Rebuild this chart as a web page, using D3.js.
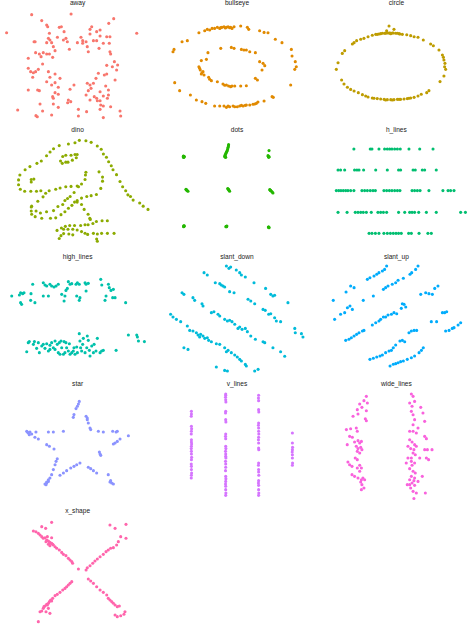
<!DOCTYPE html>
<html>
<head>
<meta charset="utf-8">
<script src="https://cdn.jsdelivr.net/npm/d3@7"></script>
<style>
html,body{margin:0;padding:0;background:#fff;}
svg{display:block;}
</style>
</head>
<body>
<script>
// ---- data ----
const datasetNames = ["away","bullseye","circle","dino","dots","h_lines","high_lines","slant_down","slant_up","star","v_lines","wide_lines","x_shape"];
const datasetColors = ["#F8766D","#E18A00","#BE9C00","#8CAB00","#24B700","#00BE70","#00C1AB","#00BBDA","#00ACFC","#8B93FF","#D575FE","#F962DD","#FF65AC"];
const xLimits = [15.56, 98.29];
const yLimits = [0.015, 99.6];

const away = [[30.0,98.4],[53.1,99.0],[35.9,92.7],[15.3,81.2],[91.6,80.6],[78.1,94.6],[75.2,90.1],[38.8,88.5],[39.4,86.9],[46.2,86.3],[47.4,86.9],[65.2,86.9],[64.2,84.4],[68.1,82.2],[70.1,83.8],[40.4,80.6],[49.0,82.2],[50.1,75.8],[64.2,79.9],[70.1,78.0],[31.4,72.6],[32.0,72.6],[39.8,75.8],[40.7,74.2],[45.1,76.8],[48.6,74.2],[50.9,72.6],[58.9,76.8],[59.9,73.6],[61.9,72.6],[56.8,71.7],[59.9,71.1],[66.2,73.6],[68.1,73.6],[74.0,77.4],[75.9,77.4],[72.0,71.1],[75.5,71.1],[38.8,71.7],[41.7,71.7],[42.7,67.9],[52.1,65.4],[62.6,67.9],[63.2,63.1],[69.5,66.3],[75.9,63.1],[76.3,60.9],[32.3,62.2],[34.5,60.9],[35.5,58.4],[36.8,62.2],[38.8,60.9],[40.4,60.9],[42.3,57.7],[43.7,64.1],[28.0,56.8],[78.5,53.6],[80.4,50.4],[74.0,50.1],[77.3,48.8],[79.8,45.7],[36.4,51.4],[28.0,47.3],[29.4,44.1],[31.0,43.1],[32.3,44.1],[33.9,46.3],[30.6,38.7],[39.8,44.1],[40.7,38.7],[43.7,41.8],[74.0,41.8],[72.6,40.9],[69.1,42.5],[46.6,37.7],[38.8,34.5],[41.7,31.4],[43.7,33.6],[78.9,36.1],[67.7,37.7],[62.6,33.0],[64.2,31.4],[66.2,33.0],[64.8,28.2],[52.5,27.3],[54.8,31.4],[73.4,30.4],[70.1,25.0],[75.0,26.6],[45.6,29.2],[33.5,26.6],[34.5,26.0],[28.0,26.6],[63.2,26.0],[43.7,24.1],[45.6,22.5],[42.3,20.3],[42.7,18.7],[66.7,20.3],[68.1,18.7],[61.9,21.8],[72.0,20.9],[75.0,21.8],[74.4,18.7],[64.2,17.1],[70.1,16.4],[51.5,17.1],[52.9,15.5],[51.1,14.5],[42.7,13.3],[34.9,13.3],[45.6,10.1],[70.5,12.3],[72.0,11.4],[76.3,10.7],[57.4,8.2],[70.1,8.2],[21.8,7.6],[36.4,6.6],[81.8,6.6],[32.5,2.2],[33.3,1.2],[41.7,2.8],[57.4,1.8],[72.0,0.3],[82.2,1.8],[62.2,6.0],[68.5,16.4]];

const bullseye = [[34.6,81.2],[38.0,83.1],[39.5,84.4],[40.9,83.8],[42.3,85.3],[43.8,85.3],[45.4,86.3],[46.8,85.3],[48.1,86.3],[49.3,86.9],[50.7,86.3],[51.7,86.9],[53.2,86.3],[55.2,86.9],[59.1,87.6],[63.0,86.3],[63.8,84.4],[70.2,83.1],[72.8,81.5],[75.1,81.2],[79.4,74.9],[83.3,71.7],[88.8,65.3],[89.2,59.0],[91.1,53.6],[91.7,48.8],[90.8,46.3],[88.4,31.4],[78.2,19.6],[77.5,20.3],[72.8,16.1],[69.2,15.2],[68.3,13.9],[66.3,13.0],[64.4,12.3],[61.8,12.0],[60.5,11.4],[58.5,11.4],[57.1,10.7],[54.6,11.4],[52.6,10.7],[50.7,10.1],[49.3,11.4],[46.8,11.4],[43.8,11.4],[38.6,13.9],[36.4,15.5],[33.1,17.1],[29.6,21.8],[23.3,26.0],[20.4,33.6],[19.4,63.1],[20.0,65.3],[24.7,72.6],[27.8,73.6],[47.4,66.3],[53.6,67.2],[55.2,66.3],[59.5,65.3],[61.0,64.7],[62.4,64.7],[64.4,63.1],[67.7,62.2],[39.9,62.2],[39.0,55.8],[36.0,54.6],[70.2,53.6],[72.2,52.0],[73.2,49.8],[71.6,45.7],[34.6,48.8],[35.4,45.7],[36.4,43.1],[37.6,40.9],[36.0,41.8],[40.9,36.8],[41.9,35.5],[45.4,34.5],[48.7,32.3],[50.7,31.4],[52.0,30.4],[54.0,30.4],[55.6,30.4],[59.1,30.4],[62.4,30.7],[67.7,37.7],[68.9,36.1],[40.3,38.7],[47.4,86.0],[50.1,85.7],[52.6,86.0],[54.0,85.3],[62.4,12.3],[67.3,13.3],[55.6,10.7],[51.7,11.4],[59.5,12.0],[49.7,31.1],[53.2,29.8],[35.0,47.3],[37.0,44.1]];

const circle = [[52.6,87.6],[55.5,84.4],[51.2,83.1],[32.1,71.7],[33.6,73.6],[36.0,74.9],[37.9,75.8],[40.3,77.4],[42.8,78.7],[44.8,79.6],[46.7,79.9],[48.7,80.6],[50.0,80.6],[51.6,80.9],[53.2,80.9],[54.5,80.9],[56.5,80.6],[58.5,80.3],[60.4,79.6],[63.0,79.3],[65.3,78.4],[67.3,77.4],[69.6,76.8],[72.7,74.2],[77.0,70.4],[78.6,68.8],[81.9,64.7],[83.9,59.9],[84.8,55.2],[85.4,52.0],[85.8,46.3],[84.8,39.9],[82.5,34.6],[76.0,26.0],[74.7,24.1],[71.5,22.5],[69.6,20.9],[67.3,19.6],[65.3,19.0],[63.3,18.4],[61.4,18.0],[59.4,17.7],[57.5,17.7],[55.5,17.4],[53.6,17.4],[51.6,17.4],[49.7,17.7],[47.7,18.0],[45.7,18.4],[42.8,19.0],[40.3,19.9],[38.9,20.9],[37.0,22.2],[34.6,24.1],[32.1,25.7],[30.1,27.2],[28.2,29.2],[26.2,32.3],[24.8,36.1],[21.7,46.3],[22.7,52.6],[25.2,61.5],[26.6,64.1],[31.1,70.4],[45.7,79.6],[47.7,80.3],[50.6,80.6],[52.6,80.9],[57.5,80.6],[59.0,80.0],[53.6,80.3],[55.1,80.9],[50.6,17.1],[54.5,17.1],[58.5,17.7],[64.3,18.7],[43.8,18.7],[84.5,57.7],[85.2,48.8]];

const dino = [[55.3846,97.1795],[51.5385,96.0256],[46.1538,94.4872],[42.8205,91.4103],[40.7692,88.3333],[38.7179,84.8718],[35.641,79.8718],[33.0769,77.5641],[28.9744,74.4872],[26.1538,71.4103],[23.0769,66.4103],[22.3077,61.7949],[22.3077,57.1795],[23.3333,52.9487],[25.8974,51.0256],[29.4872,51.0256],[32.8205,51.0256],[35.3846,51.4103],[40.2564,51.4103],[44.1026,52.9487],[46.6667,54.1026],[50.0,55.2564],[53.0769,55.641],[56.6667,56.0256],[59.2308,57.9487],[61.2821,62.1795],[61.5385,66.4103],[61.7949,69.1026],[57.4359,55.2564],[54.8718,49.8718],[52.5641,46.0256],[48.2051,38.3333],[49.4872,42.1795],[51.0256,44.1026],[45.3846,36.4103],[42.8205,32.5641],[38.7179,31.4103],[35.1282,30.2564],[32.5641,32.1795],[30.0,36.7949],[33.5897,41.4103],[36.6667,45.641],[38.2051,49.1026],[29.7436,36.0256],[29.7436,32.1795],[30.0,29.1026],[32.0513,26.7949],[35.8974,25.2564],[41.0256,25.2564],[44.1026,25.641],[47.1795,28.718],[49.4872,31.4103],[51.5385,34.8718],[53.5897,37.5641],[55.1282,40.641],[56.6667,42.1795],[59.2308,44.4872],[62.3077,46.0256],[64.8718,46.7949],[67.9487,47.9487],[70.5128,53.718],[71.5385,60.641],[71.5385,64.4872],[69.4872,69.4872],[46.9231,79.8718],[48.2051,84.1026],[50.0,85.2564],[53.0769,85.2564],[55.3846,86.0256],[56.6667,86.0256],[56.1538,82.9487],[53.8462,80.641],[51.2821,78.718],[50.0,78.718],[47.9487,77.5641],[29.7436,59.8718],[29.7436,62.1795],[31.2821,62.5641],[57.9487,99.4872],[61.7949,99.1026],[64.8718,97.5641],[68.4615,94.1026],[70.7692,91.0256],[72.0513,86.4103],[73.8462,83.3333],[75.1282,79.1026],[76.6667,75.2564],[77.6923,71.4103],[79.7436,66.7949],[81.7949,60.2564],[83.3333,55.2564],[85.1282,51.4103],[86.4103,47.5641],[87.9487,46.0256],[89.4872,42.5641],[93.3333,39.8718],[95.3846,36.7949],[98.2051,33.718],[56.6667,40.641],[59.2308,38.3333],[60.7692,33.718],[63.0769,29.1026],[64.1026,25.2564],[64.359,24.1026],[74.359,22.9487],[71.2821,22.9487],[67.9487,22.1795],[65.8974,20.2564],[63.0769,19.1026],[61.2821,19.1026],[58.7179,18.3333],[55.1282,18.3333],[52.3077,18.3333],[49.7436,17.5641],[47.4359,16.0256],[44.8718,13.7179],[48.7179,14.8718],[51.2821,14.8718],[54.1026,14.8718],[56.6667,14.1026],[59.2308,12.5641],[61.2821,11.0256],[62.8205,9.8718],[54.1026,9.4872],[51.7949,10.2564],[48.7179,10.641],[47.1795,8.718],[46.1538,6.0256],[66.2,10.9],[68.5,10.3],[71.0,10.9],[74.4,10.9],[78.3,10.9],[68.1,5.5],[68.5,3.3]];

const dots = [[25.4,83.9],[25.7,84.3],[25.9,83.6],[25.5,84.6],[26.0,84.0],[25.6,83.2],[52.0,95.4],[51.9,94.2],[51.7,92.8],[51.5,91.5],[51.3,90.3],[51.0,89.2],[50.7,88.1],[50.4,87.0],[50.1,85.9],[49.9,85.0],[49.7,84.0],[50.3,83.3],[50.0,83.7],[75.7,89.7],[75.1,84.9],[75.5,83.3],[75.3,84.2],[75.8,83.8],[27.2,52.5],[27.5,52.0],[27.8,51.5],[28.2,51.0],[27.0,52.9],[51.7,53.2],[52.0,52.5],[52.3,51.8],[52.6,51.0],[51.5,53.6],[76.1,52.5],[76.6,51.8],[77.1,51.0],[77.6,50.2],[78.0,49.3],[76.4,52.1],[25.8,17.6],[25.6,17.2],[26.0,18.0],[25.7,18.1],[50.7,17.6],[50.4,17.3],[51.0,17.9],[50.8,17.2],[75.5,16.6],[75.3,16.9],[75.7,16.2],[75.6,17.0]];

const h_lines = [[32.0,91.2],[41.6,91.2],[42.6,91.2],[46.7,91.2],[50.0,91.2],[51.6,91.2],[53.0,91.2],[54.3,91.2],[55.9,91.2],[57.5,91.2],[59.2,91.2],[64.3,91.2],[70.6,91.2],[78.4,91.2],[22.7,71.2],[24.2,71.2],[26.6,71.2],[32.4,71.2],[33.8,71.2],[35.0,71.2],[37.7,71.2],[44.8,71.2],[51.6,71.2],[58.2,71.2],[59.4,71.2],[66.7,71.2],[68.0,71.2],[72.1,71.2],[73.5,71.2],[80.3,71.2],[21.7,51.6],[23.1,51.6],[24.4,51.6],[25.8,51.6],[27.2,51.6],[28.5,51.6],[30.1,51.6],[32.0,51.6],[36.7,51.6],[38.3,51.6],[39.9,51.6],[41.6,51.6],[43.2,51.6],[44.6,51.6],[49.6,51.6],[51.2,51.6],[52.8,51.6],[54.3,51.6],[55.9,51.6],[57.5,51.6],[59.0,51.6],[66.1,51.6],[67.6,51.6],[69.2,51.6],[70.8,51.6],[76.0,51.6],[84.2,51.6],[87.2,51.6],[88.7,51.6],[90.7,51.6],[22.7,30.9],[28.0,30.9],[32.8,30.9],[34.4,30.9],[36.0,30.9],[37.5,30.9],[39.3,30.9],[42.2,30.9],[46.1,30.9],[47.7,30.9],[49.3,30.9],[51.2,30.9],[58.2,30.9],[61.8,30.9],[64.7,30.9],[66.1,30.9],[67.6,30.9],[70.0,30.9],[74.5,30.9],[80.3,30.9],[94.6,30.9],[97.4,30.9],[40.9,10.9],[42.6,10.9],[44.6,10.9],[46.7,10.9],[49.6,10.9],[51.6,10.9],[53.4,10.9],[55.1,10.9],[56.7,10.9],[58.2,10.9],[59.8,10.9],[64.1,10.9],[65.7,10.9],[70.2,10.9],[75.4,10.9],[77.4,10.9]];

const high_lines = [[18.3,72.0],[22.8,73.0],[23.5,75.2],[24.7,74.3],[25.5,75.2],[23.5,65.7],[24.1,64.1],[29.6,74.3],[30.6,83.2],[29.4,67.9],[31.9,65.7],[36.8,84.7],[37.8,82.5],[36.8,72.0],[39.8,72.0],[38.8,81.6],[40.7,83.2],[41.7,81.6],[43.1,80.6],[44.3,81.6],[45.6,83.2],[47.6,73.6],[49.5,72.0],[49.0,67.3],[50.1,77.4],[51.5,85.7],[52.5,83.2],[50.9,79.3],[53.5,83.8],[56.0,83.2],[56.8,84.7],[57.9,83.2],[56.4,72.0],[58.3,70.5],[57.9,67.9],[61.3,84.7],[61.9,83.2],[63.2,84.1],[61.9,76.8],[70.5,87.9],[71.1,82.5],[75.0,83.2],[75.5,80.0],[76.5,77.4],[77.9,78.4],[73.6,72.0],[73.0,67.9],[77.5,70.5],[78.9,70.5],[85.1,65.7],[27.1,19.0],[28.0,27.6],[28.6,28.6],[31.0,26.0],[31.6,28.6],[32.9,22.2],[33.9,27.6],[34.5,18.1],[35.9,24.4],[36.8,26.0],[37.8,22.2],[38.8,26.6],[39.8,19.7],[40.7,21.2],[40.7,25.1],[41.7,27.6],[43.7,29.2],[43.7,21.2],[45.6,18.1],[46.6,16.5],[47.2,29.2],[47.6,22.8],[48.6,16.5],[49.0,28.6],[50.1,27.6],[50.5,22.8],[51.5,19.7],[52.1,26.6],[52.5,16.5],[53.5,18.1],[54.4,19.7],[54.8,22.8],[56.4,23.5],[56.8,18.1],[57.9,36.2],[58.3,29.2],[58.7,22.8],[59.3,19.7],[59.9,26.0],[60.3,31.7],[61.3,18.1],[62.3,22.8],[62.6,33.9],[63.2,29.8],[63.8,20.3],[64.2,14.9],[65.2,24.4],[66.2,18.1],[66.6,26.0],[67.7,19.7],[68.5,31.7],[70.1,18.1],[71.0,19.7],[72.0,20.3],[79.5,20.3],[86.7,34.9],[91.6,34.9],[92.0,33.0],[92.6,29.2],[96.1,28.6],[46.2,27.6],[45.0,26.0],[55.4,16.5],[49.5,18.1],[42.7,22.8]];

const slant_down = [[50.7,100.6],[52.2,98.4],[53.2,99.7],[56.5,96.8],[58.5,94.3],[59.5,92.0],[61.8,90.1],[66.9,84.7],[73.7,79.3],[76.7,73.6],[78.0,72.0],[79.0,72.7],[86.8,65.7],[37.6,94.3],[39.5,92.0],[44.2,84.7],[46.8,83.8],[47.7,82.5],[48.7,81.6],[49.7,80.6],[52.6,76.2],[55.2,75.2],[63.4,68.9],[65.0,67.3],[67.3,64.7],[72.2,59.3],[73.5,58.4],[75.5,54.6],[76.7,55.2],[79.0,51.4],[80.0,48.2],[82.5,47.6],[90.8,41.2],[91.1,37.1],[94.7,36.2],[95.6,33.0],[24.7,75.2],[25.8,73.6],[31.1,70.5],[32.1,67.9],[36.4,64.7],[37.0,62.5],[41.9,56.2],[43.4,57.1],[45.8,54.6],[46.8,53.0],[49.7,49.8],[51.3,48.2],[52.6,48.9],[54.0,47.6],[55.6,45.1],[57.5,41.2],[58.5,42.5],[59.9,40.3],[61.8,41.2],[63.0,38.1],[65.0,33.9],[67.7,30.8],[72.2,28.5],[73.2,27.6],[78.0,22.8],[82.5,19.0],[84.9,14.6],[18.0,54.6],[19.4,52.0],[21.4,49.8],[23.9,47.6],[27.8,43.5],[29.2,39.3],[31.1,38.7],[33.1,37.1],[34.1,34.9],[35.0,33.0],[35.6,35.5],[37.0,33.9],[38.0,31.7],[39.5,32.3],[40.3,29.8],[41.9,28.5],[44.8,26.6],[46.8,26.0],[49.7,22.8],[50.7,19.0],[51.7,20.3],[53.6,18.1],[55.6,15.8],[57.1,13.9],[58.5,11.7],[59.5,10.1],[61.8,6.9],[62.4,5.4],[25.8,22.8],[28.2,21.2],[44.8,4.4],[49.7,1.2],[51.3,0.6],[67.3,0.6],[69.3,2.2]];

const slant_up = [[39.9,87.9],[41.4,89.5],[43.8,91.1],[45.4,92.7],[46.7,94.3],[48.7,95.9],[50.0,97.4],[51.2,100.6],[27.4,75.8],[30.1,81.6],[32.1,80.0],[49.3,78.4],[50.6,80.0],[52.0,81.6],[54.5,83.2],[56.5,84.7],[57.9,87.0],[61.0,88.9],[64.9,92.7],[65.9,94.3],[68.2,97.4],[69.6,100.6],[19.9,67.9],[37.5,67.9],[43.4,72.0],[71.2,73.6],[74.1,75.2],[76.0,74.3],[78.0,73.6],[79.4,79.3],[81.3,81.6],[20.7,49.8],[24.2,54.6],[26.6,56.2],[28.2,60.9],[29.7,62.5],[31.1,59.3],[42.8,44.4],[44.8,46.6],[46.7,48.2],[47.7,49.8],[49.3,52.0],[50.6,52.0],[52.0,53.9],[54.0,54.6],[55.5,56.2],[57.1,55.2],[59.8,60.3],[61.4,64.1],[62.4,61.6],[60.4,64.7],[27.2,29.8],[29.1,30.8],[30.5,32.3],[32.1,33.9],[33.6,35.5],[35.0,37.1],[37.0,38.7],[37.9,39.3],[77.4,47.6],[80.5,47.6],[83.9,56.2],[85.2,56.2],[86.4,57.1],[85.8,38.7],[87.8,39.3],[89.7,41.2],[90.7,41.9],[93.1,44.4],[94.6,46.6],[41.4,11.7],[43.4,12.7],[45.4,13.9],[47.3,14.9],[48.7,15.8],[50.6,18.1],[52.6,19.7],[54.0,20.3],[55.1,22.8],[56.5,25.4],[59.0,29.2],[60.4,29.8],[61.8,28.5],[64.3,37.1],[65.7,38.7],[67.3,39.3],[68.8,39.3],[53.2,5.4],[55.1,7.0],[56.5,7.6],[57.9,8.5],[59.4,9.5],[61.0,10.1],[63.3,11.7],[65.7,13.3],[67.6,14.9],[70.2,18.1],[71.6,20.3],[72.7,22.8]];

const star = [[57.9,92.5],[57.4,90.0],[56.8,87.8],[56.0,85.6],[54.8,79.9],[54.4,77.3],[61.9,78.3],[62.6,75.1],[63.2,71.9],[64.2,67.2],[64.6,65.6],[69.1,64.0],[72.0,63.3],[77.5,64.0],[79.5,63.3],[80.2,64.0],[86.7,59.8],[81.8,56.7],[80.2,54.4],[78.9,52.9],[77.9,51.9],[69.7,44.3],[70.5,41.1],[63.2,29.7],[64.6,28.4],[66.2,26.5],[68.1,24.3],[74.9,22.7],[75.9,15.7],[76.9,14.8],[77.9,13.8],[58.3,33.8],[56.4,32.2],[54.8,30.6],[52.9,29.0],[50.5,26.5],[48.6,24.3],[46.6,22.1],[37.8,13.8],[38.8,14.8],[39.8,16.3],[40.7,19.5],[41.7,22.7],[42.7,27.5],[43.7,32.2],[44.3,35.4],[45.0,37.9],[27.1,64.0],[28.0,62.4],[29.0,63.3],[30.0,61.4],[31.9,58.3],[33.9,56.7],[32.5,63.3],[39.8,63.3],[42.7,63.3],[48.6,64.0],[38.8,51.3],[40.4,49.7],[43.1,47.1],[27.5,63.3],[28.6,60.8],[38.8,15.7],[38.4,13.2],[39.8,17.9],[62.6,76.7],[70.1,42.4],[76.3,17.0]];

const v_lines = [[30.2,83.0],[30.2,80.5],[30.1,78.3],[30.2,68.7],[30.3,66.5],[30.2,64.0],[30.1,61.4],[30.2,56.0],[30.2,53.8],[30.3,51.9],[30.2,49.7],[30.1,47.5],[30.2,44.9],[30.2,42.4],[30.3,39.2],[30.2,37.0],[30.1,32.9],[30.2,30.6],[30.2,27.5],[30.3,24.3],[30.2,22.1],[30.1,19.5],[50.3,99.6],[50.3,98.3],[50.2,96.4],[50.3,94.1],[50.4,91.9],[50.3,83.0],[50.2,81.4],[50.3,75.1],[50.4,72.9],[50.3,61.4],[50.2,59.2],[50.3,57.0],[50.3,49.7],[50.4,47.5],[50.2,44.9],[50.3,42.4],[50.3,40.2],[50.4,38.6],[50.2,35.4],[50.3,32.9],[50.3,29.7],[50.2,26.5],[50.3,21.1],[50.4,18.9],[50.3,16.3],[50.2,13.8],[50.3,11.6],[50.3,8.4],[50.4,5.2],[50.3,3.0],[69.6,98.3],[69.5,95.7],[69.6,93.2],[69.6,84.6],[69.7,82.4],[69.6,71.9],[69.5,69.7],[69.6,67.2],[69.6,64.0],[69.7,61.4],[69.6,58.3],[69.5,56.0],[69.6,52.9],[69.6,48.1],[69.7,46.5],[69.6,33.8],[69.5,31.6],[69.6,27.5],[69.6,25.2],[69.7,22.1],[69.6,17.0],[69.5,14.8],[69.6,12.5],[69.6,8.4],[69.7,5.2],[69.6,3.0],[89.4,62.4],[89.4,52.9],[89.5,48.7],[89.4,46.5],[89.3,44.3],[89.4,41.7],[89.4,38.6],[89.5,33.8],[89.4,31.6]];

const wide_lines = [[39.3,97.3],[37.9,93.2],[39.9,90.9],[35.4,90.0],[36.7,86.8],[34.0,84.6],[39.3,83.6],[34.4,80.5],[31.5,78.3],[38.7,76.0],[39.3,74.1],[27.6,65.6],[30.1,66.5],[33.4,67.2],[34.0,64.0],[29.5,59.2],[31.1,58.3],[32.4,53.8],[34.4,55.1],[35.4,52.9],[36.4,54.4],[28.1,51.3],[33.4,49.7],[34.4,47.5],[36.0,48.7],[36.7,46.5],[34.0,44.9],[35.4,43.3],[32.8,38.6],[34.0,37.0],[28.5,34.8],[29.5,32.2],[30.9,30.6],[35.4,31.6],[34.0,29.0],[36.4,29.0],[35.4,25.9],[30.9,22.7],[32.4,21.1],[34.4,19.5],[36.4,17.9],[37.3,19.5],[38.3,17.9],[36.0,15.7],[36.7,13.2],[37.9,10.0],[36.4,8.4],[65.7,99.5],[66.7,97.3],[67.6,92.5],[64.7,90.9],[66.1,87.8],[71.2,86.8],[65.7,83.0],[72.5,81.4],[66.7,79.8],[67.6,75.1],[73.5,73.5],[66.7,70.3],[69.6,67.2],[64.7,64.0],[66.7,64.0],[68.6,62.4],[73.5,59.2],[74.5,57.0],[64.7,56.0],[66.1,53.8],[67.6,51.3],[63.7,49.7],[68.6,49.7],[65.3,47.5],[67.2,46.5],[73.5,46.5],[75.1,46.5],[77.8,46.5],[66.7,43.3],[68.0,41.7],[63.7,38.6],[65.7,38.6],[70.6,38.6],[74.5,38.6],[75.8,37.0],[65.7,35.4],[67.6,33.8],[62.7,33.8],[66.1,31.6],[64.7,28.4],[66.7,25.9],[68.0,24.3],[65.7,21.1],[67.6,19.5],[64.7,17.9],[67.2,17.0],[69.6,16.3],[66.1,14.8],[64.7,13.2],[67.6,12.5],[63.3,13.2],[65.3,10.0],[66.7,6.8],[68.6,5.2],[73.9,5.2],[67.2,0.0],[72.1,21.1]];

const x_shape = [[31.0,89.9],[32.5,89.2],[33.9,87.6],[34.9,86.1],[35.9,84.5],[36.8,82.9],[37.8,83.5],[38.8,81.3],[39.8,80.3],[40.7,79.1],[41.7,78.1],[42.7,76.5],[39.8,77.2],[40.7,75.9],[43.7,74.9],[44.7,73.4],[46.2,71.8],[47.6,69.5],[48.6,67.6],[50.1,66.4],[51.5,63.8],[52.5,62.2],[53.5,60.7],[54.0,59.1],[57.4,53.7],[41.7,98.1],[35.9,94.0],[38.2,92.4],[41.7,83.5],[39.2,84.5],[40.4,78.1],[38.4,79.7],[42.3,77.2],[75.9,95.6],[78.9,92.4],[85.3,96.2],[82.2,84.5],[85.3,82.9],[80.8,79.7],[79.8,76.5],[77.9,74.0],[76.3,73.4],[74.9,71.8],[73.6,70.2],[72.0,67.6],[70.1,65.4],[68.5,63.2],[67.1,61.3],[65.8,59.1],[64.2,56.8],[62.6,54.9],[61.9,52.7],[53.5,41.6],[52.5,40.0],[51.5,38.4],[50.5,36.8],[49.5,35.2],[48.2,33.7],[46.6,31.4],[45.0,29.5],[43.7,28.3],[42.3,25.7],[41.1,24.1],[40.4,22.6],[39.8,21.0],[38.8,20.0],[37.8,18.4],[36.8,16.2],[35.9,13.7],[34.9,13.0],[33.9,3.5],[40.7,11.4],[38.4,13.0],[39.8,16.2],[39.2,19.4],[37.2,17.8],[41.7,23.2],[63.2,44.1],[64.6,42.2],[66.2,40.0],[68.1,36.8],[70.1,33.7],[72.0,31.4],[74.0,28.9],[74.9,25.7],[75.9,24.1],[76.9,22.6],[77.9,21.0],[78.9,19.4],[80.2,17.8],[81.4,18.4],[84.7,13.0],[78.9,9.9],[80.2,8.3],[82.2,9.2],[84.1,10.5]];

// ---- layout ----
const W = 474, H = 632;
const nCol = 3;
const panelW = 155.2, panelH = 115;
const colPitch = 159.4, rowPitch = 126.85, firstTop = 8.15;

const seriesByName = {away, bullseye, circle, dino, dots, h_lines, high_lines, slant_down, slant_up, star, v_lines, wide_lines, x_shape};

function expand(lim, f) { const d = (lim[1] - lim[0]) * f; return [lim[0] - d, lim[1] + d]; }

const x = d3.scaleLinear().domain(expand(xLimits, 0.05)).range([0, panelW]);
const y = d3.scaleLinear().domain(expand(yLimits, 0.05)).range([panelH, 0]);

const svg = d3.select("body").append("svg").attr("width", W).attr("height", H);
svg.append("rect").attr("width", W).attr("height", H).attr("fill", "#fff");

datasetNames.forEach((name, i) => {
  const c = i % nCol, r = Math.floor(i / nCol);
  const g = svg.append("g").attr("transform", `translate(${c * colPitch},${firstTop + r * rowPitch})`);
  g.append("text")
    .attr("x", panelW / 2).attr("y", -2.8)
    .attr("text-anchor", "middle")
    .attr("font-family", "'Liberation Sans', Arial, sans-serif")
    .attr("font-size", 6.6)
    .attr("fill", "#1a1a1a")
    .text(name);
  g.selectAll("circle").data(seriesByName[name]).join("circle")
    .attr("cx", d => x(d[0]))
    .attr("cy", d => y(d[1]))
    .attr("r", 1.55)
    .attr("fill", datasetColors[i]);
});
</script>
</body>
</html>
